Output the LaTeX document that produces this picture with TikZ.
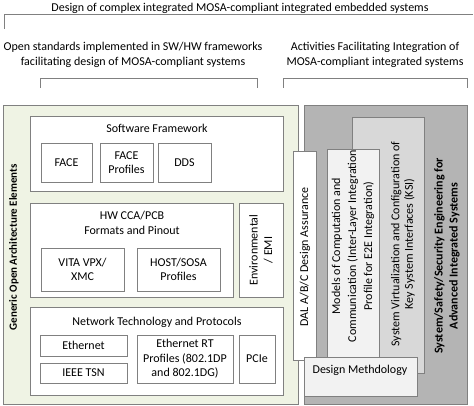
\documentclass[tikz,border=0pt]{standalone}
\usepackage{fontspec}
\setmainfont{Carlito}
\usetikzlibrary{positioning}

\begin{document}
\begin{tikzpicture}[x=1pt, y=-1pt,
    every node/.style={font=\fontsize{12}{14.5}\selectfont, align=center},
    box/.style={draw=framegray, fill=white, inner sep=0pt},
    bracket/.style={draw=framegray, line width=0.8pt}]
    % Define colors
    \definecolor{framegray}{RGB}{128, 128, 128}
    \definecolor{oacolor}{RGB}{239, 243, 228}
    \definecolor{actcolor}{RGB}{180, 180, 180}
    \definecolor{ksicolor}{RGB}{216, 216, 216}
    \definecolor{mocolor}{RGB}{242, 242, 242}

    \useasboundingbox (0,0) rectangle (474,406);

    % Brackets and headings
    \coordinate (topl) at (4,29);
    \coordinate (topr) at (473,14);
    \draw[bracket] (topl) |- (topr);
    \node[fill=white, inner sep=1pt] (title) at (240,8) {Design of complex integrated MOSA-compliant integrated embedded systems};

    \coordinate (osl) at (40,88);
    \coordinate (osr) at (257,88);
    \draw[bracket] (osl) -- ++(0,-10) -| (osr);
    \node (ostext) at (133,55) {Open standards implemented in SW/HW frameworks\\facilitating design of MOSA-compliant systems};

    \coordinate (afl) at (283,88);
    \coordinate (afr) at (467,88);
    \draw[bracket] (afl) -- ++(0,-10) -| (afr);
    \node (aftext) at (375,55) {Activities Facilitating Integration of\\MOSA-compliant integrated systems};

    % Generic open architecture elements
    \node[box, fill=oacolor, minimum width=295, minimum height=299] (oa) at (150.5,254.5) {};
    \node[rotate=90, font=\fontsize{11}{13}\selectfont\bfseries] (oatext) at (14,247) {Generic Open Architecture Elements};

    % Software framework
    \node[box, minimum width=253, minimum height=75] (sw) at (156.5,153.5) {};
    \node (swtext) at (157,128) {Software Framework};
    \node[box, minimum width=51, minimum height=39] (face) at (66.5,162.5) {FACE};
    \node[box, minimum width=53, minimum height=39] (faceprof) at (126.5,162.5) {FACE\\Profiles};
    \node[box, minimum width=53, minimum height=39] (dds) at (184.5,162.5) {DDS};

    % HW CCA/PCB
    \node[box, minimum width=203, minimum height=94] (hw) at (131.5,250) {};
    \node (hwtext) at (132,223) {HW CCA/PCB\\Formats and Pinout};
    \node[box, minimum width=83, minimum height=43] (vita) at (82.5,269.5) {VITA VPX/\\XMC};
    \node[box, minimum width=83, minimum height=43] (host) at (178.5,269.5) {HOST/SOSA\\Profiles};
    \node[box, minimum width=44, minimum height=94] (env) at (261,250) {};
    \node[rotate=90] (envtext) at (261,250) {Environmental\\/ EMI};

    % Network technology
    \node[box, minimum width=253, minimum height=88] (net) at (156.5,351) {};
    \node (nettext) at (157,322) {Network Technology and Protocols};
    \node[box, minimum width=87, minimum height=21] (eth) at (83.5,345.5) {Ethernet};
    \node[box, minimum width=87, minimum height=20] (tsn) at (83.5,373) {IEEE TSN};
    \node[box, minimum width=96, minimum height=48] (ethrt) at (185,359) {Ethernet RT\\Profiles (802.1DP\\and 802.1DG)};
    \node[box, minimum width=36, minimum height=48] (pcie) at (257,359) {PCIe};

    % Integration activities
    \node[box, fill=actcolor, minimum width=163, minimum height=299] (act) at (385.5,254.5) {};
    \node[rotate=90, font=\fontsize{12}{15}\selectfont\bfseries] (sse) at (447,256) {System/Safety/Security Engineering for\\Advanced Integrated Systems};
    \node[box, fill=ksicolor, minimum width=72, minimum height=256] (ksi) at (388,245) {};
    \node[rotate=90, font=\fontsize{12}{13.5}\selectfont] (ksitext) at (403,244) {System Virtualization and Configuration of\\Key System Interfaces (KSI)};
    \node[box, fill=mocolor, minimum width=52, minimum height=208] (moc) at (353,253) {};
    \node[rotate=90, font=\fontsize{12}{16}\selectfont] (moctext) at (353,246) {Models of Computation and\\Communication (Inter-Layer Integration\\Profile for E2E Integration)};
    \node[box, minimum width=23, minimum height=209] (dal) at (304.5,255.5) {};
    \node[rotate=90] (daltext) at (305,257) {DAL A/B/C Design Assurance};
    \node[box, fill=mocolor, minimum width=113, minimum height=39] (dm) at (360.5,376.5) {};
    \node (dmtext) at (360,370) {Design Methdology};

  \end{tikzpicture}
\end{document}
